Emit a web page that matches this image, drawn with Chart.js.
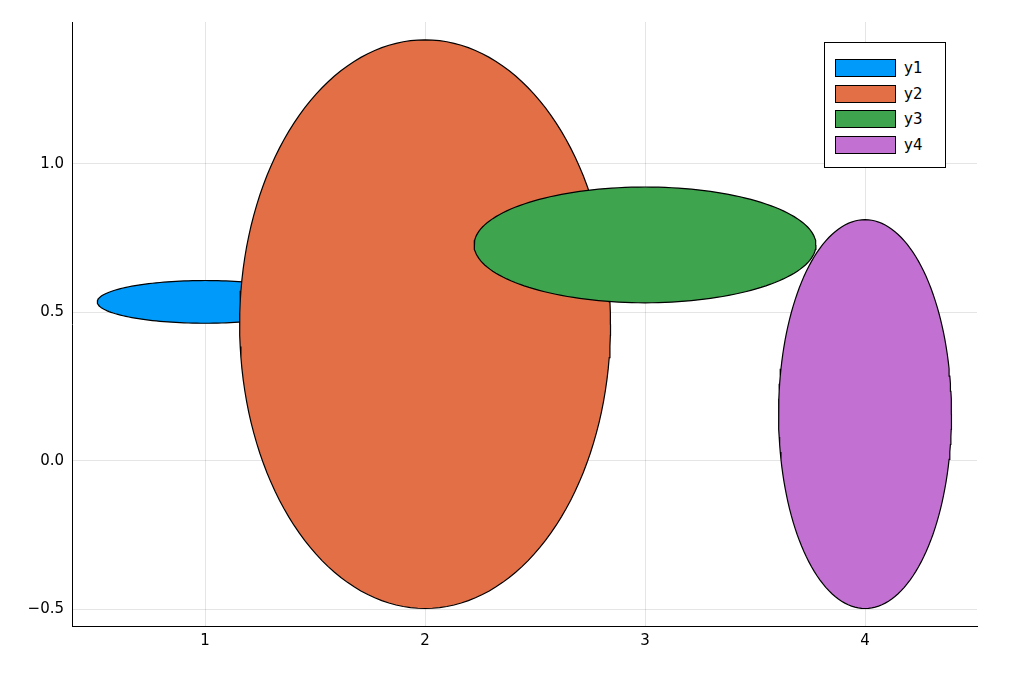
<!DOCTYPE html>
<html><head><meta charset="utf-8">
<script src="https://cdn.jsdelivr.net/npm/chart.js@4/dist/chart.umd.min.js"></script>
<style>
html,body{margin:0;padding:0;background:#fff;}
#wrap{position:relative;width:1024px;height:685px;}
#legend{position:absolute;left:824px;top:42px;width:122px;height:126px;border:1px solid #000;background:#fff;font-family:"DejaVu Sans",sans-serif;font-size:15px;box-sizing:border-box;}
.row{position:absolute;left:10px;height:18px;display:flex;align-items:center;}
.sw{width:61px;height:18px;border:1px solid #000;box-sizing:border-box;margin-right:8px;}
</style></head>
<body><div id="wrap"><canvas id="c" width="1024" height="685"></canvas><div id="legend"></div></div>
<script>
const seriesNames = ["y1","y2","y3","y4"];
const centerX = [1, 2, 3, 4];
const centerY = [0.535, 0.46, 0.727, 0.157];
const radiusX = [0.49, 0.843, 0.777, 0.393];
const radiusY = [0.072, 0.958, 0.195, 0.655];
const colors = ["#009AFA","#E36F47","#3EA44E","#C271D2"];
const xTicks = [1,2,3,4];
const yTicks = [-0.5,0,0.5,1.0];
const yLabels = {"-0.5":"\u22120.5","0":"0.0","0.5":"0.5","1":"1.0"};

const N = 160;
const datasets = seriesNames.map((n,i)=>{
  const pts=[];
  for(let k=0;k<=N;k++){const t=2*Math.PI*k/N;pts.push({x:centerX[i]+radiusX[i]*Math.cos(t),y:centerY[i]+radiusY[i]*Math.sin(t)});}
  return {label:n,data:pts,showLine:true,fill:'shape',backgroundColor:colors[i],borderColor:'#000',borderWidth:1.2,pointRadius:0,tension:0,order:4-i};
});

const leg=document.getElementById('legend');
seriesNames.forEach((n,i)=>{
  const r=document.createElement('div');r.className='row';r.style.top=(16+i*25.5)+'px';
  r.innerHTML='<div class="sw" style="background:'+colors[i]+'"></div><span>'+n+'</span>';
  leg.appendChild(r);
});

const font={family:"DejaVu Sans",size:15};
new Chart(document.getElementById('c'),{
  type:'scatter',
  data:{datasets},
  options:{
    responsive:false,animation:false,
    layout:{padding:{top:22,right:47,left:0,bottom:0}},
    plugins:{legend:{display:false},tooltip:{enabled:false}},
    scales:{
      x:{type:'linear',min:0.395,max:4.509,
        afterBuildTicks:a=>{a.ticks=xTicks.map(v=>({value:v}));},
        afterFit:a=>{a.height=59;},
        ticks:{color:'#000',font,callback:v=>String(v),padding:6},
        grid:{color:'rgba(0,0,0,0.1)',tickLength:0},
        border:{color:'#000',width:1}},
      y:{type:'linear',min:-0.557,max:1.478,
        afterBuildTicks:a=>{a.ticks=yTicks.map(v=>({value:v}));},
        afterFit:a=>{a.width=72;},
        ticks:{color:'#000',font,callback:v=>yLabels[String(v)],padding:8},
        grid:{color:'rgba(0,0,0,0.1)',tickLength:0},
        border:{color:'#000',width:1}}
    }
  }
});
</script></body></html>
